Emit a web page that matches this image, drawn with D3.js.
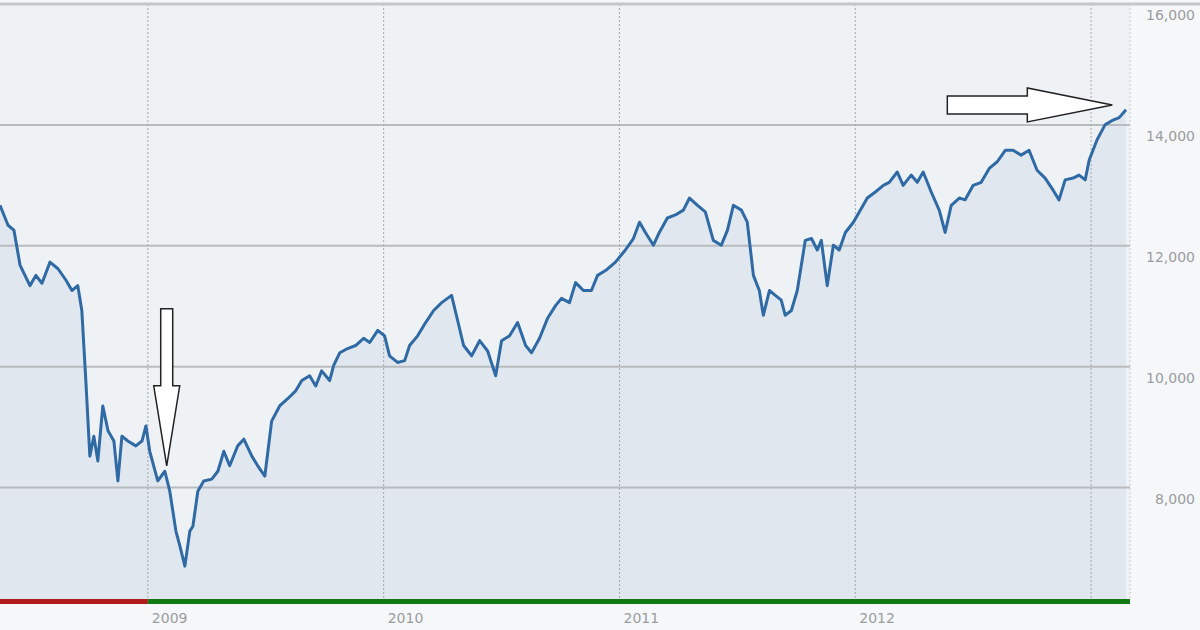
<!DOCTYPE html>
<html><head><meta charset="utf-8">
<script src="https://cdn.jsdelivr.net/npm/d3@7"></script>
<style>body{margin:0;background:#f4f6f8;}svg{display:block;}</style>
</head><body><div id="chart"></div>
<script>
// decimal year / index level
var years = [2008.373,2008.407,2008.432,2008.458,2008.500,2008.525,2008.551,2008.585,2008.619,2008.653,2008.678,2008.703,2008.720,2008.737,2008.754,2008.771,2008.788,2008.809,2008.831,2008.856,2008.873,2008.890,2008.915,2008.949,2008.975,2008.992,
2009.008,2009.042,2009.072,2009.093,2009.119,2009.136,2009.157,2009.178,2009.191,2009.212,2009.237,2009.271,2009.297,2009.322,2009.347,2009.381,2009.407,2009.441,2009.466,2009.496,2009.525,2009.559,2009.593,2009.627,2009.653,2009.686,2009.712,2009.737,2009.771,2009.788,2009.814,2009.847,2009.881,2009.915,2009.941,2009.975,
2010.004,2010.025,2010.059,2010.089,2010.110,2010.144,2010.178,2010.212,2010.246,2010.288,2010.314,2010.339,2010.373,2010.407,2010.441,2010.475,2010.500,2010.534,2010.568,2010.602,2010.627,2010.661,2010.695,2010.729,2010.754,2010.788,2010.814,2010.847,2010.881,2010.907,2010.941,2010.983,
2011.025,2011.059,2011.085,2011.110,2011.144,2011.169,2011.203,2011.237,2011.271,2011.297,2011.331,2011.364,2011.398,2011.432,2011.458,2011.483,2011.517,2011.542,2011.568,2011.593,2011.610,2011.636,2011.661,2011.686,2011.703,2011.729,2011.754,2011.788,2011.814,2011.839,2011.856,2011.881,2011.907,2011.932,2011.958,2011.992,
2012.017,2012.051,2012.085,2012.119,2012.144,2012.178,2012.203,2012.237,2012.263,2012.288,2012.322,2012.356,2012.381,2012.407,2012.441,2012.466,2012.500,2012.534,2012.568,2012.602,2012.636,2012.669,2012.703,2012.737,2012.771,2012.805,2012.839,2012.864,2012.890,2012.924,2012.949,2012.975,2012.992,
2013.025,2013.059,2013.093,2013.119,2013.148];
var levels = [12670,12340,12260,11680,11340,11510,11380,11730,11620,11430,11260,11340,10930,9770,8520,8850,8440,9350,8940,8770,8110,8850,8770,8690,8770,9020,
8600,8110,8270,7940,7280,7030,6700,7280,7360,7940,8110,8140,8270,8600,8360,8690,8800,8520,8360,8190,9100,9350,9470,9600,9770,9850,9680,9930,9770,10020,10230,10300,10350,10470,10400,10600,
10510,10180,10070,10100,10350,10510,10730,10930,11060,11180,10760,10350,10180,10430,10260,9850,10430,10510,10730,10350,10230,10470,10800,11010,11130,11060,11390,11260,11260,11510,11590,11730,
11930,12120,12390,12220,12010,12220,12460,12510,12590,12790,12670,12560,12090,12010,12260,12670,12590,12390,11510,11260,10850,11260,11180,11100,10850,10930,11260,12090,12120,11930,12090,11340,12010,11930,12220,12390,
12560,12790,12890,13000,13050,13220,13000,13170,13050,13220,12890,12590,12220,12670,12790,12760,13000,13050,13280,13390,13580,13580,13500,13580,13250,13120,12920,12760,13090,13120,13170,13090,13420,13750,14000,14080,14120,14250];
var yTicks = [8000,10000,12000,14000,16000];
var xTicks = [2009,2010,2011,2012];
var xMinor = [2013];
var downArrow = {year: 2009.08, level: 8360};
var rightArrow = {year: 2013.09, level: 14330};

var W = 1200, H = 630;
var plot = {left: 0, right: 1130, top: 4, bottom: 600};

var svg = d3.select("#chart").append("svg").attr("width", W).attr("height", H);

var x = d3.scaleLinear().domain([2008.373, 2013.165]).range([plot.left, plot.right]);
var y = d3.scaleLinear().domain([6140, 16000]).range([plot.bottom, plot.top]);

// backgrounds
svg.append("rect").attr("width", W).attr("height", H).attr("fill", "#f5f7f9");
svg.append("rect").attr("x", plot.left).attr("y", plot.top)
    .attr("width", plot.right - plot.left).attr("height", plot.bottom - plot.top)
    .attr("fill", "#eff2f5");

var data = years.map(function(d, i){ return {t: d, v: levels[i]}; });

// area under line
svg.append("path").datum(data)
    .attr("fill", "#e1e7ee")
    .attr("d", d3.area().x(d => x(d.t)).y0(plot.bottom).y1(d => y(d.v)));

// horizontal grid
svg.append("g").selectAll("line").data(yTicks).join("line")
    .attr("x1", plot.left).attr("x2", plot.right)
    .attr("y1", d => y(d)).attr("y2", d => y(d))
    .attr("stroke", "#b9bcbf").attr("stroke-width", 2);

// vertical dotted grid
svg.append("g").selectAll("line").data(xTicks.concat(xMinor)).join("line")
    .attr("x1", d => x(d)).attr("x2", d => x(d))
    .attr("y1", plot.top).attr("y2", plot.bottom)
    .attr("stroke", "#a4a8ac").attr("stroke-dasharray", "2,2");
svg.append("line").attr("x1", plot.right).attr("x2", plot.right)
    .attr("y1", plot.top).attr("y2", plot.bottom)
    .attr("stroke", "#c8cbce").attr("stroke-dasharray", "2,2");

// price line
svg.append("path").datum(data)
    .attr("fill", "none").attr("stroke", "#2f6aa5").attr("stroke-width", 3)
    .attr("stroke-linejoin", "round")
    .attr("d", d3.line().x(d => x(d.t)).y(d => y(d.v)));

// top border
svg.append("line").attr("x1", 0).attr("x2", W).attr("y1", 4).attr("y2", 4)
    .attr("stroke", "#c4c7ca").attr("stroke-width", 3);

// right axis labels
svg.append("g").selectAll("text").data(yTicks).join("text")
    .attr("x", 1195).attr("y", d => y(d) + 16)
    .attr("text-anchor", "end")
    .attr("font-family", "DejaVu Sans, sans-serif").attr("font-size", 14)
    .attr("fill", "#9a9da0")
    .text(d => d3.format(",")(d));

// down/up bar
svg.append("rect").attr("x", plot.left).attr("y", plot.bottom - 1)
    .attr("width", x(2009) - plot.left).attr("height", 5).attr("fill", "#b01a1a");
svg.append("rect").attr("x", x(2009)).attr("y", plot.bottom - 1)
    .attr("width", plot.right - x(2009)).attr("height", 5).attr("fill", "#137a13");

// year labels
svg.append("g").selectAll("text").data(xTicks).join("text")
    .attr("x", d => x(d) + 4).attr("y", 623)
    .attr("font-family", "DejaVu Sans, sans-serif").attr("font-size", 14)
    .attr("fill", "#9a9da0")
    .text(d => d);

// annotation arrows
var dx = x(downArrow.year), dy = y(downArrow.level);
svg.append("path")
    .attr("d", "M" + (dx - 6) + "," + (dy - 157) + " h12 v77 h7 L" + dx + "," + dy +
        " L" + (dx - 13) + "," + (dy - 80) + " h7 Z")
    .attr("fill", "#fff").attr("stroke", "#222").attr("stroke-width", 1.5);
var rx = x(rightArrow.year), ry = y(rightArrow.level);
svg.append("path")
    .attr("d", "M" + (rx - 165) + "," + (ry - 9) + " h80 v-8 L" + rx + "," + ry +
        " L" + (rx - 85) + "," + (ry + 17) + " v-8 h-80 Z")
    .attr("fill", "#fff").attr("stroke", "#222").attr("stroke-width", 1.5);
</script></body></html>
